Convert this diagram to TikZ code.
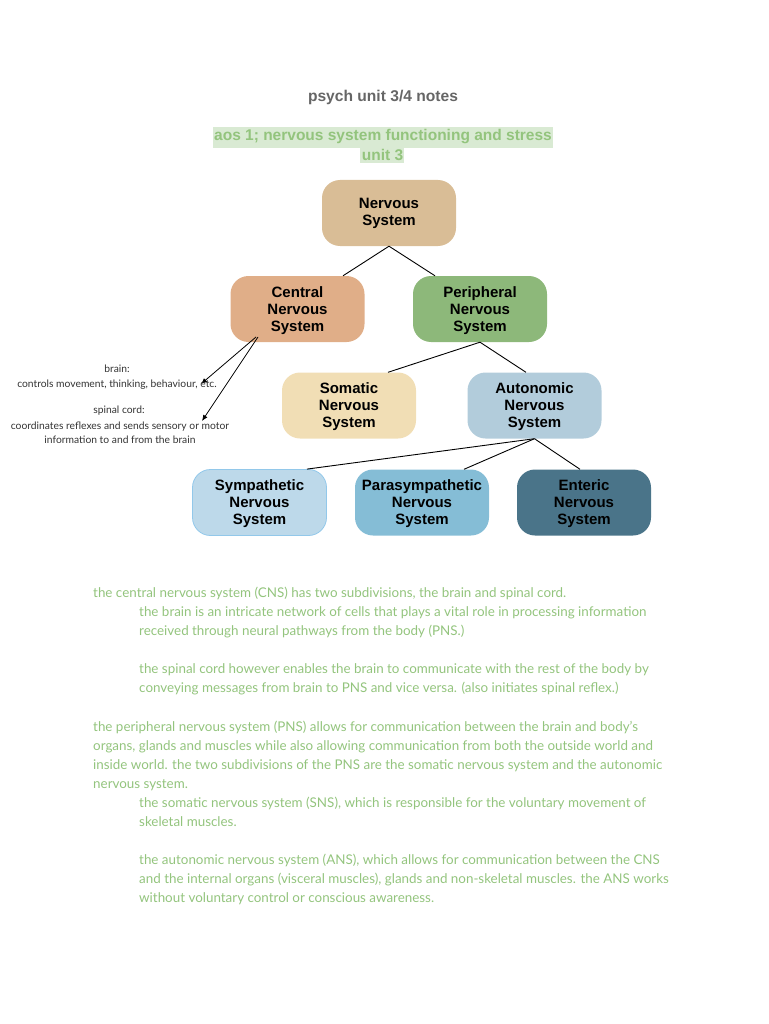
\documentclass[tikz,border=0pt]{standalone}
\usepackage{fontspec}
\setmainfont{Liberation Sans}
\newfontfamily\bodyfont{Lato}
\usetikzlibrary{arrows.meta}
\definecolor{nsTan}{HTML}{D9BD96}
\definecolor{cnsOr}{HTML}{E0AE88}
\definecolor{pnsGr}{HTML}{8DB87A}
\definecolor{snsYe}{HTML}{F1DEB5}
\definecolor{ansBl}{HTML}{B2CCDB}
\definecolor{symBl}{HTML}{BDD9EA}
\definecolor{symBd}{HTML}{92C8EA}
\definecolor{parBl}{HTML}{85BDD6}
\definecolor{entTe}{HTML}{4A7489}
\definecolor{noteGr}{HTML}{93C47D}
\definecolor{hiGr}{HTML}{D9EAD3}
\definecolor{titleGy}{HTML}{666666}
\definecolor{annGy}{HTML}{333333}
\tikzset{
  sysbox/.style={rounded corners=18pt, minimum width=134pt, minimum height=66pt,
    align=center, font=\fontsize{15}{17}\selectfont\bfseries, inner sep=0pt},
  link/.style={draw=black, line width=0.9pt},
  ann/.style={font=\bodyfont\fontsize{10.3}{14}\selectfont, text=annGy, anchor=base, inner sep=0pt},
  note/.style={font=\bodyfont\fontsize{13.4}{19}\selectfont, text=noteGr, anchor=base west, inner sep=0pt},
  arr/.style={draw=black, line width=0.8pt, -{Latex[length=6pt,width=5pt]}}
}
\begin{document}
\begin{tikzpicture}[x=1pt,y=-1pt]
\useasboundingbox (0,0) rectangle (768,1024);
% titles
\node[font=\fontsize{15.6}{18}\selectfont\bfseries, text=titleGy, anchor=base] (title) at (383,101.5) {psych unit 3/4 notes};
\fill[hiGr] (213,127) rectangle (553,148);
\fill[hiGr] (360,148) rectangle (404,163);
\node[font=\fontsize{15.5}{18}\selectfont\bfseries, text=noteGr, anchor=base] (sub1) at (383,140.5) {aos 1; nervous system functioning and stress};
\node[font=\fontsize{15.5}{18}\selectfont\bfseries, text=noteGr, anchor=base] (sub2) at (382.5,160.5) {unit 3};
% boxes
\node[sysbox, fill=nsTan] (ns) at (389,213) {Nervous\\System};
\node[sysbox, fill=cnsOr] (cns) at (297.5,309) {\rule{0pt}{14pt}Central\\Nervous\\System};
\node[sysbox, fill=pnsGr] (pns) at (480,309) {\rule{0pt}{14pt}Peripheral\\Nervous\\System};
\node[sysbox, fill=snsYe] (sns) at (349,405.5) {\rule{0pt}{13pt}Somatic\\Nervous\\System};
\node[sysbox, fill=ansBl] (ans) at (534.5,405.5) {\rule{0pt}{13pt}Autonomic\\Nervous\\System};
\node[sysbox, fill=symBl, draw=symBd, line width=0.8pt] (sym) at (259.5,502.5) {\rule{0pt}{13pt}Sympathetic\\Nervous\\System};
\node[sysbox, fill=parBl] (par) at (422,502.5) {\rule{0pt}{13pt}Parasympathetic\\Nervous\\System};
\node[sysbox, fill=entTe] (ent) at (584,502.5) {\rule{0pt}{13pt}Enteric\\Nervous\\System};
% connectors
\draw[link] (ns.south) -- (cns.north -| 343,0);
\draw[link] (ns.south) -- (pns.north -| 435,0);
\draw[link] (pns.south) -- (sns.north -| 388,0);
\draw[link] (pns.south) -- (ans.north -| 526,0);
\draw[link] (ans.south) -- (sym.north -| 307,0);
\draw[link] (ans.south) -- (par.north -| 464,0);
\draw[link] (ans.south) -- (ent.north -| 580,0);
% annotation
\coordinate (cnsfoot) at (256,337);
\coordinate (brainTip) at (201,384);
\coordinate (cordTip) at (202,421);
\draw[arr] (cnsfoot) -- (brainTip);
\draw[arr] ([xshift=2pt]cnsfoot) -- (cordTip);
\node[ann] (a1) at (117,372) {brain:};
\node[ann] (a2) at (117,387) {controls movement, thinking, behaviour, etc.};
\node[ann] (a3) at (119,413) {spinal cord:};
\node[ann] (a4) at (120,429) {coordinates reflexes and sends sensory or motor};
\node[ann] (a5) at (120,443) {information to and from the brain};
% notes
\node[note] (n1) at (93,597) {the central nervous system (CNS) has two subdivisions, the brain and spinal cord.};
\node[note] (n2) at (139,616) {the brain is an intricate network of cells that plays a vital role in processing information};
\node[note] (n3) at (139,635) {received through neural pathways from the body (PNS.)};
\node[note] (n4) at (139,673) {the spinal cord however enables the brain to communicate with the rest of the body by};
\node[note] (n5) at (139,692) {conveying messages from brain to PNS and vice versa. (also initiates spinal reflex.)};
\node[note] (n6) at (93,731) {the peripheral nervous system (PNS) allows for communication between the brain and body’s};
\node[note] (n7) at (93,750) {organs, glands and muscles while also allowing communication from both the outside world and};
\node[note] (n8) at (93,769) {inside world. the two subdivisions of the PNS are the somatic nervous system and the autonomic};
\node[note] (n9) at (93,788) {nervous system.};
\node[note] (n10) at (139,807) {the somatic nervous system (SNS), which is responsible for the voluntary movement of};
\node[note] (n11) at (139,826) {skeletal muscles.};
\node[note] (n12) at (139,864) {the autonomic nervous system (ANS), which allows for communication between the CNS};
\node[note] (n13) at (139,883) {and the internal organs (visceral muscles), glands and non-skeletal muscles. the ANS works};
\node[note] (n14) at (139,902) {without voluntary control or conscious awareness.};
\end{tikzpicture}
\end{document}
